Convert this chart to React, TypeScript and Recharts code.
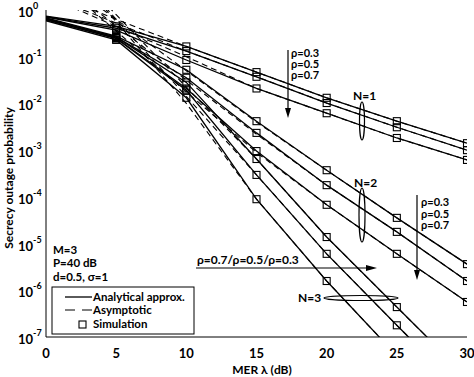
import React from "react";
import { ComposedChart, Line, XAxis, YAxis } from "recharts";

const FONT = "Lato, 'DejaVu Sans', sans-serif";

// MER lambda (dB)
const merDb = [0, 5, 10, 15, 20, 25, 30];
const xTicks = [0, 5, 10, 15, 20, 25, 30];
const yMajorTicks = [1e-7, 1e-6, 1e-5, 1e-4, 1e-3, 1e-2, 1e-1, 1];
const yTickExponents = ["-7", "-6", "-5", "-4", "-3", "-2", "-1", "0"];

// Analytical approx. (solid)
const anaN1Rho03 = [0.741, 0.447, 0.166, 0.0468, 0.0132, 4.17e-3, 1.41e-3];
const anaN1Rho05 = [0.724, 0.407, 0.132, 0.0372, 0.0102, 3.09e-3, 1.0e-3];
const anaN1Rho07 = [0.708, 0.372, 0.0851, 0.0209, 6.17e-3, 1.82e-3, 6.17e-4];
const anaN2Rho03 = [0.676, 0.275, 0.0525, 4.17e-3, 3.72e-4, 3.55e-5, 3.63e-6];
const anaN2Rho05 = [0.646, 0.263, 0.0355, 2.34e-3, 1.78e-4, 1.78e-5, 1.58e-6];
const anaN2Rho07 = [0.617, 0.251, 0.0209, 9.55e-4, 6.76e-5, 6.03e-6, 5.62e-7];
const anaN3Rho03 = [0.661, 0.263, 0.0282, 6.46e-4, 1.38e-5, 4.37e-7, 1.41e-8];
const anaN3Rho05 = [0.631, 0.245, 0.0191, 2.95e-4, 6.03e-6, 1.78e-7, 5.62e-9];
const anaN3Rho07 = [0.589, 0.229, 0.0132, 8.91e-5, 1.58e-6, 3.98e-8, 1.0e-9];

// Asymptotic (dashed)
const asyN1Rho03 = [2.51, 0.631, 0.166, 0.0468, 0.0132, 4.17e-3, 1.41e-3];
const asyN1Rho05 = [2.09, 0.525, 0.132, 0.0372, 0.0102, 3.09e-3, 1.0e-3];
const asyN1Rho07 = [2.0, 0.447, 0.1, 0.0209, 6.17e-3, 1.82e-3, 6.17e-4];
const asyN2Rho03 = [7.94, 0.631, 0.0501, 3.98e-3, 3.72e-4, 3.55e-5, 3.63e-6];
const asyN2Rho05 = [6.61, 0.457, 0.0316, 2.19e-3, 1.78e-4, 1.78e-5, 1.58e-6];
const asyN2Rho07 = [7.08, 0.355, 0.0178, 8.91e-4, 6.76e-5, 6.03e-6, 5.62e-7];
const asyN3Rho03 = [28.2, 0.794, 0.0224, 6.46e-4, 1.38e-5, 4.37e-7, 1.41e-8];
const asyN3Rho05 = [31.6, 0.631, 0.0141, 2.95e-4, 6.03e-6, 1.78e-7, 5.62e-9];
const asyN3Rho07 = [31.6, 0.562, 0.01, 8.91e-5, 1.58e-6, 3.98e-8, 1.0e-9];

// Simulation (squares)
const simN1Rho03 = [null, 0.447, 0.166, 0.0468, 0.0132, 4.17e-3, 1.41e-3];
const simN1Rho05 = [null, 0.407, 0.132, 0.0372, 0.0102, 3.09e-3, 1.0e-3];
const simN1Rho07 = [null, 0.372, 0.0851, 0.0209, 6.17e-3, 1.82e-3, 6.17e-4];
const simN2Rho03 = [null, 0.275, 0.0525, 4.17e-3, 3.72e-4, 3.55e-5, 3.63e-6];
const simN2Rho05 = [null, 0.263, 0.0355, 2.34e-3, 1.78e-4, 1.78e-5, 1.58e-6];
const simN2Rho07 = [null, 0.251, 0.0209, 9.55e-4, 6.76e-5, 6.03e-6, 5.62e-7];
const simN3Rho03 = [null, 0.263, 0.0282, 6.46e-4, 1.38e-5, 4.37e-7, null];
const simN3Rho05 = [null, 0.245, 0.0191, 2.95e-4, 6.03e-6, 1.78e-7, null];
const simN3Rho07 = [null, 0.229, 0.0132, 8.91e-5, 1.58e-6, null, null];

const anaSeries: Record<string, (number | null)[]> = {
  a13: anaN1Rho03, a15: anaN1Rho05, a17: anaN1Rho07,
  a23: anaN2Rho03, a25: anaN2Rho05, a27: anaN2Rho07,
  a33: anaN3Rho03, a35: anaN3Rho05, a37: anaN3Rho07,
};
const asySeries: Record<string, (number | null)[]> = {
  d13: asyN1Rho03, d15: asyN1Rho05, d17: asyN1Rho07,
  d23: asyN2Rho03, d25: asyN2Rho05, d27: asyN2Rho07,
  d33: asyN3Rho03, d35: asyN3Rho05, d37: asyN3Rho07,
};
const simSeries: Record<string, (number | null)[]> = {
  s13: simN1Rho03, s15: simN1Rho05, s17: simN1Rho07,
  s23: simN2Rho03, s25: simN2Rho05, s27: simN2Rho07,
  s33: simN3Rho03, s35: simN3Rho05, s37: simN3Rho07,
};

const allSeries = { ...anaSeries, ...asySeries, ...simSeries };
const data = merDb.map((x, i) => {
  const row: Record<string, number | null> = { x };
  Object.keys(allSeries).forEach((k) => {
    row[k] = allSeries[k][i];
  });
  return row;
});

const yMinorTicks: number[] = [];
for (let e = -7; e <= -1; e++) {
  for (let k = 2; k <= 9; k++) yMinorTicks.push(k * Math.pow(10, e));
}

const Empty = () => <g />;

const XTickLabel = (props: any) => {
  const { x, payload } = props;
  return (
    <text x={x} y={358} textAnchor="middle" fontFamily={FONT} fontWeight={700} fontSize={13} fill="#000">
      {payload.value}
    </text>
  );
};

const YTickLabel = (props: any) => {
  const { y, payload } = props;
  const idx = yMajorTicks.findIndex((v) => Math.abs(v - payload.value) / v < 1e-6);
  const exp = idx >= 0 ? yTickExponents[idx] : "";
  return (
    <text x={18} y={y + 7} textAnchor="start" fontFamily={FONT} fontWeight={700} fontSize={13} fill="#000">
      10
      <tspan dy={-8} fontSize={9}>{exp}</tspan>
    </text>
  );
};

const SquareDot = (props: any) => {
  const { cx, cy, value, index } = props;
  if (cx == null || cy == null || value == null || (Array.isArray(value) && value[1] == null)) {
    return <g key={`e${index}`} />;
  }
  return (
    <rect key={`r${index}`} x={cx - 3.5} y={cy - 3.5} width={7} height={7} fill="none" stroke="#000" strokeWidth={1.1} />
  );
};

const T = (p: { x: number; y: number; children: React.ReactNode; size?: number; anchor?: string }) => (
  <text x={p.x} y={p.y} fontFamily={FONT} fontWeight={700} fontSize={p.size ?? 12} fill="#000" textAnchor={p.anchor ?? "start"}>
    {p.children}
  </text>
);

export default function App() {
  const axisStroke = { stroke: "#000", strokeWidth: 1 };
  return (
    <div style={{ position: "absolute", left: 0, top: 0, width: 474, height: 377, background: "#fff" }}>
      <ComposedChart width={474} height={377} data={data} margin={{ top: 10, right: 7, bottom: 0, left: 0 }}>
        <XAxis xAxisId="xb" type="number" dataKey="x" domain={[0, 30]} ticks={xTicks} interval={0}
          tick={XTickLabel} tickLine={false} axisLine={axisStroke} height={40} allowDataOverflow />
        <XAxis xAxisId="xbt" type="number" domain={[0, 30]} ticks={xTicks} interval={0} orientation="bottom"
          mirror height={0} tick={Empty} tickSize={5} tickLine={axisStroke} axisLine={false} allowDataOverflow />
        <XAxis xAxisId="xt" type="number" domain={[0, 30]} ticks={xTicks} interval={0} orientation="top"
          mirror height={0} tick={Empty} tickSize={5} tickLine={axisStroke} axisLine={axisStroke} allowDataOverflow />
        <YAxis yAxisId="yl" type="number" scale="log" domain={[1e-7, 1]} ticks={yMajorTicks} interval={0}
          tick={YTickLabel} tickLine={false} axisLine={axisStroke} width={46} allowDataOverflow />
        <YAxis yAxisId="ylM" type="number" scale="log" domain={[1e-7, 1]} ticks={yMajorTicks} interval={0}
          mirror width={0} tick={Empty} tickSize={5} tickLine={axisStroke} axisLine={false} allowDataOverflow />
        <YAxis yAxisId="ylm" type="number" scale="log" domain={[1e-7, 1]} ticks={yMinorTicks} interval={0}
          mirror width={0} tick={Empty} tickSize={3} tickLine={axisStroke} axisLine={false} allowDataOverflow />
        <YAxis yAxisId="yrM" orientation="right" type="number" scale="log" domain={[1e-7, 1]} ticks={yMajorTicks} interval={0}
          mirror width={0} tick={Empty} tickSize={5} tickLine={axisStroke} axisLine={axisStroke} allowDataOverflow />
        <YAxis yAxisId="yrm" orientation="right" type="number" scale="log" domain={[1e-7, 1]} ticks={yMinorTicks} interval={0}
          mirror width={0} tick={Empty} tickSize={3} tickLine={axisStroke} axisLine={false} allowDataOverflow />

        {Object.keys(asySeries).map((k) => (
          <Line key={k} xAxisId="xb" yAxisId="yl" type="linear" dataKey={k} stroke="#000" strokeWidth={1.1}
            strokeDasharray="6 4" dot={false} activeDot={false} isAnimationActive={false} />
        ))}
        {Object.keys(anaSeries).map((k) => (
          <Line key={k} xAxisId="xb" yAxisId="yl" type="linear" dataKey={k} stroke="#000" strokeWidth={1.3}
            dot={false} activeDot={false} isAnimationActive={false} />
        ))}
        {Object.keys(simSeries).map((k) => (
          <Line key={k} xAxisId="xb" yAxisId="yl" type="linear" dataKey={k} stroke="none" strokeWidth={0}
            dot={SquareDot} activeDot={false} isAnimationActive={false} />
        ))}
      </ComposedChart>

      <svg width={474} height={377} style={{ position: "absolute", left: 0, top: 0, pointerEvents: "none" }}>
        {/* axis titles */}
        <text x={13} y={178} transform="rotate(-90 13 178)" textAnchor="middle" fontFamily={FONT} fontWeight={700} fontSize={12} fill="#000">
          Secrecy outage probability
        </text>
        <T x={262} y={374} anchor="middle">MER λ (dB)</T>

        {/* top rho group, N=1 */}
        <line x1={288} y1={50} x2={288} y2={110} stroke="#000" strokeWidth={1.2} />
        <polygon points="285,108 291,108 288,118" fill="#000" />
        <T x={291} y={57} size={11}>ρ=0.3</T>
        <T x={291} y={68} size={11}>ρ=0.5</T>
        <T x={291} y={79} size={11}>ρ=0.7</T>
        <T x={353} y={100}>N=1</T>
        <ellipse cx={362} cy={121} rx={2.5} ry={19} fill="none" stroke="#000" strokeWidth={1.2} />

        {/* N=2 */}
        <T x={354} y={187}>N=2</T>
        <ellipse cx={362} cy={215} rx={3} ry={27} fill="none" stroke="#000" strokeWidth={1.2} />
        <line x1={417} y1={195} x2={417} y2={272} stroke="#000" strokeWidth={1.2} />
        <polygon points="414,270 420,270 417,280" fill="#000" />
        <T x={421} y={206} size={11}>ρ=0.3</T>
        <T x={421} y={218} size={11}>ρ=0.5</T>
        <T x={421} y={229} size={11}>ρ=0.7</T>

        {/* N=3 */}
        <T x={197} y={264}>ρ=0.7/ρ=0.5/ρ=0.3</T>
        <line x1={196} y1={268} x2={368} y2={268} stroke="#000" strokeWidth={1.2} />
        <polygon points="366,265 366,271 377,268" fill="#000" />
        <T x={298} y={302}>N=3</T>
        <ellipse cx={361} cy={298} rx={37} ry={2.5} fill="none" stroke="#000" strokeWidth={1.2} />

        {/* parameters */}
        <T x={53} y={254} size={11.5}>M=3</T>
        <T x={53} y={267} size={11.5}>P=40 dB</T>
        <T x={53} y={281} size={11.5}>d=0.5, σ=1</T>

        {/* legend */}
        <rect x={52} y={287} width={142} height={47} fill="#fff" stroke="#000" strokeWidth={1} />
        <line x1={65} y1={297} x2={92} y2={297} stroke="#000" strokeWidth={1.3} />
        <line x1={65} y1={310} x2={92} y2={310} stroke="#000" strokeWidth={1.2} strokeDasharray="10 7" />
        <rect x={79} y={321} width={7} height={7} fill="none" stroke="#000" strokeWidth={1.1} />
        <T x={93} y={301} size={11.5}>Analytical approx.</T>
        <T x={93} y={314} size={11.5}>Asymptotic</T>
        <T x={93} y={328} size={11.5}>Simulation</T>
      </svg>
    </div>
  );
}
